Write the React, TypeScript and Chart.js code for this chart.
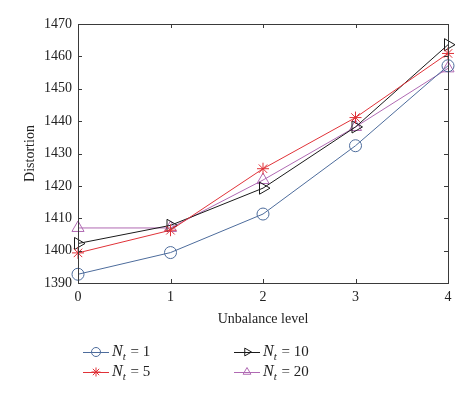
import React, { useEffect, useRef } from 'react';
import { Chart, registerables } from 'chart.js';
import { drawPoint } from 'chart.js/helpers';

Chart.register(...registerables);

const levels = ['0', '1', '2', '3', '4'];
const ntValues = ['1', '5', '10', '20'];
const nt1 = [1392.7, 1399.4, 1411.3, 1432.4, 1457.1];
const nt5 = [1399.3, 1406.3, 1425.3, 1441.1, 1460.9];
const nt10 = [1402.2, 1407.8, 1419.3, 1438.2, 1463.6];
const nt20 = [1407.0, 1407.0, 1421.8, 1438.2, 1456.3];
const yMin = 1390;
const yMax = 1470;
const yStep = 10;

const SERIF = '"Liberation Serif", "Times New Roman", serif';

const framePlugin = {
  id: 'frame',
  afterDatasetsDraw(chart: any) {
    const { ctx, chartArea: a, scales } = chart;
    ctx.save();
    ctx.strokeStyle = '#3a3a3a';
    ctx.lineWidth = 1;
    ctx.strokeRect(Math.round(a.left) + 0.5, Math.round(a.top) + 0.5, Math.round(a.right - a.left), Math.round(a.bottom - a.top));
    const tl = 4;
    ctx.beginPath();
    scales.y.ticks.forEach((t: any) => {
      const y = Math.round(scales.y.getPixelForValue(t.value)) + 0.5;
      ctx.moveTo(a.left, y); ctx.lineTo(a.left + tl, y);
      ctx.moveTo(a.right, y); ctx.lineTo(a.right - tl, y);
    });
    scales.x.ticks.forEach((t: any, i: number) => {
      const x = Math.round(scales.x.getPixelForTick(i)) + 0.5;
      ctx.moveTo(x, a.bottom); ctx.lineTo(x, a.bottom - tl);
      ctx.moveTo(x, a.top); ctx.lineTo(x, a.top + tl);
    });
    ctx.stroke();
    ctx.restore();
  },
};

const legendPlugin = {
  id: 'customLegend',
  afterDraw(chart: any) {
    const { ctx } = chart;
    const cols = [83, 234];
    const rows = [352, 372];
    ctx.save();
    chart.data.datasets.forEach((ds: any, i: number) => {
      const col = Math.floor(i / 2);
      const row = i % 2;
      const x0 = cols[col];
      const y = rows[row];
      ctx.strokeStyle = ds.borderColor;
      ctx.lineWidth = 1;
      ctx.beginPath();
      ctx.moveTo(x0, y + 0.5);
      ctx.lineTo(x0 + 26, y + 0.5);
      ctx.stroke();
      ctx.fillStyle = 'rgba(0,0,0,0)';
      drawPoint(ctx, { pointStyle: ds.pointStyle, radius: 4.5, rotation: ds.pointRotation || 0, borderWidth: 1 }, x0 + 13, y);
      let tx = x0 + 29;
      ctx.fillStyle = '#222';
      ctx.textBaseline = 'middle';
      ctx.textAlign = 'left';
      ctx.font = `italic 16px ${SERIF}`;
      ctx.fillText('N', tx, y);
      tx += ctx.measureText('N').width;
      ctx.font = `italic 11px ${SERIF}`;
      ctx.fillText('t', tx, y + 5);
      tx += ctx.measureText('t').width;
      ctx.font = `15px ${SERIF}`;
      ctx.fillText(' = ' + ntValues[i], tx + 1, y);
    });
    ctx.restore();
  },
};

export default function App() {
  const ref = useRef<HTMLCanvasElement>(null);
  useEffect(() => {
    if (!ref.current) return;
    const mk = (data: number[], color: string, style: string, radius: number, rot = 0) => ({
      label: 'N_t',
      data,
      borderColor: color,
      backgroundColor: 'rgba(0,0,0,0)',
      pointBorderColor: color,
      pointBackgroundColor: 'rgba(0,0,0,0)',
      pointStyle: style,
      pointRadius: radius,
      pointRotation: rot,
      pointBorderWidth: 1,
      borderWidth: 1,
      tension: 0,
    });
    const chart = new Chart(ref.current, {
      type: 'line',
      data: {
        labels: levels,
        datasets: [
          mk(nt1, '#4d6c9c', 'circle', 6),
          mk(nt5, '#e03238', 'star', 6),
          mk(nt10, '#1a1a1a', 'triangle', 7, 90),
          mk(nt20, '#b06ab3', 'triangle', 7),
        ],
      },
      options: {
        responsive: false,
        animation: false,
        layout: { padding: { left: 22, top: 24, right: 26, bottom: 71 } },
        plugins: { legend: { display: false }, tooltip: { enabled: false } },
        scales: {
          x: {
            offset: false,
            grid: { display: false, drawTicks: false },
            border: { display: false },
            ticks: { color: '#222', font: { family: SERIF, size: 14 }, padding: 6 },
            title: { display: true, text: 'Unbalance level', color: '#222', font: { family: SERIF, size: 14 }, padding: { top: 2, bottom: 0 } },
            afterFit: (s: any) => { s.height = 45; },
          },
          y: {
            min: yMin,
            max: yMax,
            grid: { display: false, drawTicks: false },
            border: { display: false },
            ticks: { stepSize: yStep, color: '#222', font: { family: SERIF, size: 14 }, padding: 6, callback: (v: any) => String(v) },
            title: { display: true, text: 'Distortion', color: '#222', font: { family: SERIF, size: 14 }, padding: { top: 0, bottom: 4 } },
            afterFit: (s: any) => { s.width = 56; },
          },
        },
      },
      plugins: [framePlugin, legendPlugin],
    });
    return () => chart.destroy();
  }, []);
  return (
    <div style={{ position: 'fixed', left: 0, top: 0, width: 474, height: 399, background: '#fff' }}>
      <canvas ref={ref} width={474} height={399} />
    </div>
  );
}
